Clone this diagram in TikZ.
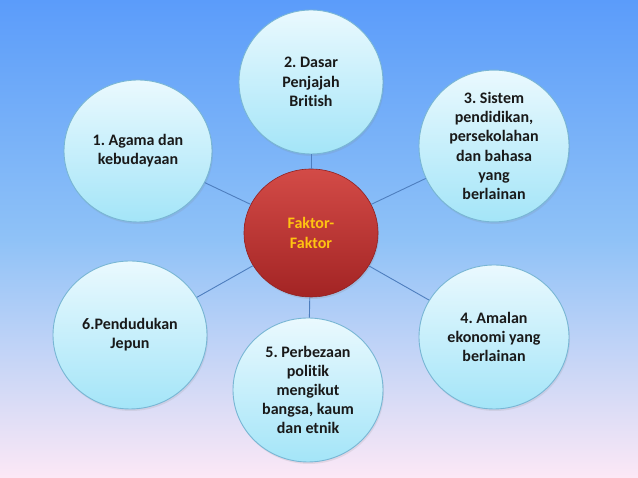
\documentclass[tikz,border=0pt]{standalone}
\usepackage{fontspec}
\setmainfont{Carlito}[Ligatures=NoCommon]
\usetikzlibrary{shapes.geometric,shadows}
\frenchspacing

\definecolor{langitatas}{HTML}{5B9CFA}
\definecolor{langittengah}{HTML}{8FC2F7}
\definecolor{langitbawah}{HTML}{FCE8F6}
\definecolor{bulatatas}{HTML}{EAF9FE}
\definecolor{bulatbawah}{HTML}{A4E5F8}
\definecolor{bulattepi}{HTML}{78B6D4}
\definecolor{merahatas}{HTML}{D34B47}
\definecolor{merahbawah}{HTML}{A32424}
\definecolor{garis}{HTML}{4E7EBE}
\definecolor{kuning}{HTML}{FFC411}

\tikzset{
  faktor/.style={ellipse, draw=bulattepi, line width=0.9pt,
    top color=bulatatas, bottom color=bulatbawah, text=black!90,
    minimum width=150pt, minimum height=144pt,
    drop shadow={opacity=0.15, shadow xshift=1pt, shadow yshift=-2pt}},
  pusat/.style={ellipse, draw=merahbawah!90!black, line width=0.6pt,
    top color=merahatas, bottom color=merahbawah, text=kuning,
    minimum width=134pt, minimum height=128pt,
    drop shadow={opacity=0.2, shadow xshift=1pt, shadow yshift=-2pt}},
  link/.style={draw=garis, line width=0.9pt}
}

\begin{document}
\begin{tikzpicture}[x=1pt, y=1pt, every node/.style={inner sep=0pt, align=center,
    font=\fontsize{16}{19.2}\selectfont\bfseries\frenchspacing}]
  % Background
  \useasboundingbox (0,0) rectangle (638,478);
  \shade[top color=langitatas, bottom color=langitbawah, middle color=langittengah]
    (0,0) rectangle (638,478);

  \node[pusat] (pusat) at (311,245) {Faktor-\\Faktor};

  % Circles round the centre
  \node[faktor, minimum width=148pt, minimum height=142pt] (f1) at (138,327)
    {1. Agama dan\\kebudayaan};
  \node[faktor, minimum width=144pt] (f2) at (311,396)
    {2. Dasar\\Penjajah\\British};
  \node[faktor] (f3) at (494,332)
    {3. Sistem\\pendidikan,\\persekolahan\\dan bahasa\\yang\\berlainan};
  \node[faktor] (f4) at (494,141)
    {4. Amalan\\ekonomi yang\\berlainan};
  \node[faktor] (f5) at (308,88)
    {5. Perbezaan\\politik\\mengikut\\bangsa, kaum\\dan etnik};
  \node[faktor, minimum width=154pt, minimum height=148pt] (f6) at (130,143)
    {6.Pendudukan\\Jepun};

  % Links
  \foreach \n in {1,...,6}
    \draw[link] (pusat) -- (f\n);
\end{tikzpicture}
\end{document}
